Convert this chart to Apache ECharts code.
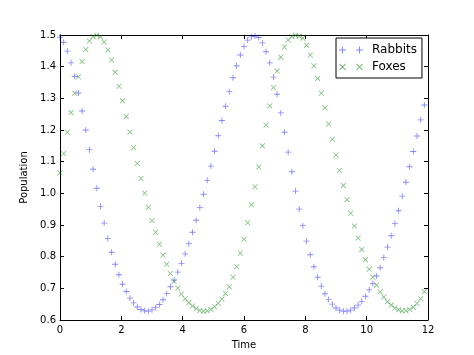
<!DOCTYPE html>
<html>
<head>
<meta charset="utf-8">
<script src="https://cdn.jsdelivr.net/npm/echarts@6/dist/echarts.min.js"></script>
<style>
html,body{margin:0;padding:0;background:#fff;}
#chart{width:474px;height:355px;}
</style>
</head>
<body>
<div id="chart"></div>
<script>
// Time points
var time = [0,0.12,0.24,0.36,0.48,0.6,0.72,0.84,0.96,1.08,1.2,1.32,1.44,1.56,1.68,1.8,1.92,2.04,2.16,2.28,
  2.4,2.52,2.64,2.76,2.88,3,3.12,3.24,3.36,3.48,3.6,3.72,3.84,3.96,4.08,4.2,4.32,4.44,4.56,4.68,
  4.8,4.92,5.04,5.16,5.28,5.4,5.52,5.64,5.76,5.88,6,6.12,6.24,6.36,6.48,6.6,6.72,6.84,6.96,7.08,
  7.2,7.32,7.44,7.56,7.68,7.8,7.92,8.04,8.16,8.28,8.4,8.52,8.64,8.76,8.88,9,9.12,9.24,9.36,9.48,
  9.6,9.72,9.84,9.96,10.08,10.2,10.32,10.44,10.56,10.68,10.8,10.92,11.04,11.16,11.28,11.4,11.52,11.64,11.76,11.88];

// Rabbits population
var rabbits = [1.493,1.477,1.449,1.412,1.369,1.317,1.260,1.200,1.138,1.076,
  1.016,0.959,0.906,0.857,0.814,0.776,0.743,0.713,0.690,0.669,
  0.654,0.641,0.633,0.629,0.628,0.632,0.639,0.649,0.664,0.684,
  0.705,0.726,0.751,0.779,0.809,0.841,0.877,0.915,0.955,0.997,
  1.041,1.086,1.133,1.182,1.230,1.275,1.321,1.365,1.403,1.437,
  1.464,1.484,1.494,1.497,1.492,1.475,1.447,1.412,1.367,1.313,
  1.254,1.193,1.130,1.068,1.007,0.950,0.898,0.849,0.806,0.768,
  0.735,0.707,0.683,0.665,0.650,0.638,0.631,0.628,0.628,0.631,
  0.638,0.647,0.659,0.675,0.695,0.715,0.739,0.765,0.797,0.830,
  0.866,0.905,0.945,0.991,1.035,1.084,1.132,1.181,1.232,1.279];

// Foxes population
var foxes = [1.065,1.126,1.193,1.255,1.316,1.368,1.416,1.454,1.481,1.495,
  1.499,1.494,1.478,1.453,1.421,1.382,1.338,1.292,1.243,1.193,
  1.144,1.094,1.047,1.001,0.956,0.914,0.877,0.839,0.805,0.776,
  0.747,0.722,0.701,0.682,0.667,0.655,0.644,0.636,0.630,0.628,
  0.629,0.633,0.642,0.653,0.666,0.684,0.705,0.735,0.768,0.811,
  0.855,0.907,0.964,1.021,1.083,1.150,1.215,1.276,1.334,1.386,
  1.430,1.462,1.484,1.495,1.499,1.496,1.490,1.468,1.437,1.403,
  1.363,1.316,1.270,1.219,1.171,1.121,1.072,1.025,0.980,0.937,
  0.897,0.859,0.823,0.790,0.760,0.735,0.710,0.689,0.673,0.658,
  0.647,0.638,0.632,0.629,0.629,0.633,0.640,0.652,0.667,0.690];

var seriesNames = ['Rabbits', 'Foxes'];
var xTicks = {min: 0, max: 12, interval: 2};
var yTicks = {min: 0.6, max: 1.5, interval: 0.1};

var plusPath = 'path://M0,3L7,3L7,4L0,4Z M3,0L4,0L4,7L3,7Z';
var crossPath = 'path://M0,0.7L0.7,0L7,6.3L6.3,7Z M6.3,0L7,0.7L0.7,7L0,6.3Z';
var plus2 = 'path://M0,3L7,3L7,4L0,4Z M3,0L4,0L4,7L3,7Z M17,3L24,3L24,4L17,4Z M20,0L21,0L21,7L20,7Z';
var cross2 = 'path://M0,0.7L0.7,0L7,6.3L6.3,7Z M6.3,0L7,0.7L0.7,7L0,6.3Z M17,0.7L17.7,0L24,6.3L23.3,7Z M23.3,0L24,0.7L17.7,7L17,6.3Z';

function pairs(xs, ys) {
  var out = [];
  for (var i = 0; i < xs.length; i++) out.push([xs[i], ys[i]]);
  return out;
}

var font = 'DejaVu Sans';
var chart = echarts.init(document.getElementById('chart'), null, {renderer: 'canvas'});
var axisCommon = {
  axisLine: {show: true, onZero: false, lineStyle: {color: '#000', width: 1}},
  axisTick: {show: true, inside: true, length: 4, lineStyle: {color: '#000', width: 1}},
  splitLine: {show: false}
};
chart.setOption({
  animation: false,
  backgroundColor: '#fff',
  grid: {left: 60, right: 46, top: 35, bottom: 35, containLabel: false},
  legend: {
    orient: 'vertical',
    left: 336, top: 38,
    padding: [5, 5, 4, 3],
    borderColor: '#000', borderWidth: 1, backgroundColor: '#fff',
    itemWidth: 24, itemHeight: 7, itemGap: 3,
    textStyle: {fontFamily: font, fontSize: 12, color: '#000', lineHeight: 14, padding: [0, 0, 0, 4]},
    data: [{name: seriesNames[0], icon: plus2}, {name: seriesNames[1], icon: cross2}]
  },
  xAxis: [
    Object.assign({type: 'value', position: 'bottom', min: xTicks.min, max: xTicks.max, interval: xTicks.interval,
      name: 'Time', nameLocation: 'middle', nameGap: 20,
      nameTextStyle: {fontFamily: font, fontSize: 10, color: '#000'},
      axisLabel: {fontFamily: font, fontSize: 10, color: '#000', margin: 5}}, axisCommon),
    Object.assign({type: 'value', position: 'top', min: xTicks.min, max: xTicks.max, interval: xTicks.interval,
      axisLabel: {show: false}}, axisCommon)
  ],
  yAxis: [
    Object.assign({type: 'value', position: 'left', min: yTicks.min, max: yTicks.max, interval: yTicks.interval,
      name: 'Population', nameLocation: 'middle', nameGap: 27,
      nameTextStyle: {fontFamily: font, fontSize: 10, color: '#000'},
      axisLabel: {fontFamily: font, fontSize: 10, color: '#000', margin: 4,
        formatter: function (v) { return v.toFixed(1); }}}, axisCommon),
    Object.assign({type: 'value', position: 'right', min: yTicks.min, max: yTicks.max, interval: yTicks.interval,
      axisLabel: {show: false}}, axisCommon)
  ],
  series: [
    {name: seriesNames[0], type: 'scatter', xAxisIndex: 0, yAxisIndex: 0,
      symbol: plusPath, symbolSize: 6,
      itemStyle: {color: 'rgba(0,0,255,0.6)'},
      data: pairs(time, rabbits)},
    {name: seriesNames[1], type: 'scatter', xAxisIndex: 0, yAxisIndex: 0,
      symbol: crossPath, symbolSize: 5.5,
      itemStyle: {color: 'rgba(0,128,0,0.65)'},
      data: pairs(time, foxes)}
  ]
});
</script>
</body>
</html>
